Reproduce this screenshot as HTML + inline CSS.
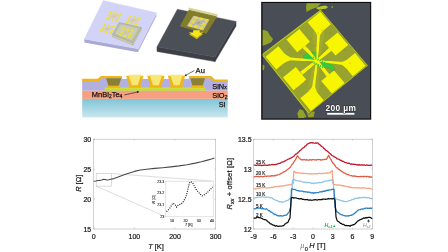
<!DOCTYPE html>
<html><head><meta charset="utf-8"><title>figure</title>
<style>html,body{margin:0;padding:0;background:#fff;}svg{display:block}</style></head>
<body><svg width="448" height="252" viewBox="0 0 448 252">
<rect width="448" height="252" fill="#fff"/>
<defs>
<filter id="b3" x="-5%" y="-5%" width="110%" height="110%"><feGaussianBlur stdDeviation="0.35"/></filter>
<filter id="b5" x="-5%" y="-5%" width="110%" height="110%"><feGaussianBlur stdDeviation="0.5"/></filter>
<linearGradient id="si" x1="0" y1="0" x2="0" y2="1"><stop offset="0" stop-color="#7fc4d6"/><stop offset="1" stop-color="#c9e6ee"/></linearGradient>
<clipPath id="mc"><rect x="262.5" y="3.1" width="107.6" height="115.4"/></clipPath>
</defs>
<g filter="url(#b3)">
<path d="M84.30,39.00 L138.00,48.80 L138.00,52.30 L84.30,42.50Z" fill="#a9a9d6"/>
<path d="M138.00,48.80 L156.40,12.70 L156.40,16.20 L138.00,52.30Z" fill="#b7b7e2"/>
<path d="M103.30,0.50 L156.40,12.70 L138.00,48.80 L84.30,39.00Z" fill="#d3d3f7" stroke="#d3d3f7" stroke-width="0.4"/>
<line x1="113.90" y1="16.50" x2="111.05" y2="12.55" stroke="#c9c4a0" stroke-width="0.6"/><line x1="113.90" y1="16.50" x2="116.75" y2="20.45" stroke="#c9c4a0" stroke-width="0.6"/><line x1="113.90" y1="16.50" x2="107.85" y2="18.55" stroke="#c9c4a0" stroke-width="0.6"/><line x1="113.90" y1="16.50" x2="119.95" y2="14.45" stroke="#c9c4a0" stroke-width="0.6"/><line x1="113.90" y1="16.50" x2="112.30" y2="19.50" stroke="#c9c4a0" stroke-width="0.6"/><line x1="113.90" y1="16.50" x2="115.50" y2="13.50" stroke="#c9c4a0" stroke-width="0.6"/><line x1="113.90" y1="16.50" x2="118.35" y2="17.45" stroke="#c9c4a0" stroke-width="0.6"/><line x1="113.90" y1="16.50" x2="109.45" y2="15.55" stroke="#c9c4a0" stroke-width="0.6"/><rect x="109.65" y="11.45" width="2.80" height="2.20" rx="0.9" fill="#f3df2e" transform="rotate(12 111.05 12.55)"/><rect x="108.05" y="14.45" width="2.80" height="2.20" rx="0.9" fill="#f3df2e" transform="rotate(12 109.45 15.55)"/><rect x="106.45" y="17.45" width="2.80" height="2.20" rx="0.9" fill="#f3df2e" transform="rotate(12 107.85 18.55)"/><rect x="114.10" y="12.40" width="2.80" height="2.20" rx="0.9" fill="#f3df2e" transform="rotate(12 115.50 13.50)"/><rect x="110.90" y="18.40" width="2.80" height="2.20" rx="0.9" fill="#f3df2e" transform="rotate(12 112.30 19.50)"/><rect x="118.55" y="13.35" width="2.80" height="2.20" rx="0.9" fill="#f3df2e" transform="rotate(12 119.95 14.45)"/><rect x="116.95" y="16.35" width="2.80" height="2.20" rx="0.9" fill="#f3df2e" transform="rotate(12 118.35 17.45)"/><rect x="115.35" y="19.35" width="2.80" height="2.20" rx="0.9" fill="#f3df2e" transform="rotate(12 116.75 20.45)"/>
<line x1="133.10" y1="20.40" x2="130.25" y2="16.45" stroke="#c9c4a0" stroke-width="0.6"/><line x1="133.10" y1="20.40" x2="135.95" y2="24.35" stroke="#c9c4a0" stroke-width="0.6"/><line x1="133.10" y1="20.40" x2="127.05" y2="22.45" stroke="#c9c4a0" stroke-width="0.6"/><line x1="133.10" y1="20.40" x2="139.15" y2="18.35" stroke="#c9c4a0" stroke-width="0.6"/><line x1="133.10" y1="20.40" x2="131.50" y2="23.40" stroke="#c9c4a0" stroke-width="0.6"/><line x1="133.10" y1="20.40" x2="134.70" y2="17.40" stroke="#c9c4a0" stroke-width="0.6"/><line x1="133.10" y1="20.40" x2="137.55" y2="21.35" stroke="#c9c4a0" stroke-width="0.6"/><line x1="133.10" y1="20.40" x2="128.65" y2="19.45" stroke="#c9c4a0" stroke-width="0.6"/><rect x="128.85" y="15.35" width="2.80" height="2.20" rx="0.9" fill="#f3df2e" transform="rotate(12 130.25 16.45)"/><rect x="127.25" y="18.35" width="2.80" height="2.20" rx="0.9" fill="#f3df2e" transform="rotate(12 128.65 19.45)"/><rect x="125.65" y="21.35" width="2.80" height="2.20" rx="0.9" fill="#f3df2e" transform="rotate(12 127.05 22.45)"/><rect x="133.30" y="16.30" width="2.80" height="2.20" rx="0.9" fill="#f3df2e" transform="rotate(12 134.70 17.40)"/><rect x="130.10" y="22.30" width="2.80" height="2.20" rx="0.9" fill="#f3df2e" transform="rotate(12 131.50 23.40)"/><rect x="137.75" y="17.25" width="2.80" height="2.20" rx="0.9" fill="#f3df2e" transform="rotate(12 139.15 18.35)"/><rect x="136.15" y="20.25" width="2.80" height="2.20" rx="0.9" fill="#f3df2e" transform="rotate(12 137.55 21.35)"/><rect x="134.55" y="23.25" width="2.80" height="2.20" rx="0.9" fill="#f3df2e" transform="rotate(12 135.95 24.35)"/>
<line x1="107.50" y1="28.90" x2="104.65" y2="24.95" stroke="#c9c4a0" stroke-width="0.6"/><line x1="107.50" y1="28.90" x2="110.35" y2="32.85" stroke="#c9c4a0" stroke-width="0.6"/><line x1="107.50" y1="28.90" x2="101.45" y2="30.95" stroke="#c9c4a0" stroke-width="0.6"/><line x1="107.50" y1="28.90" x2="113.55" y2="26.85" stroke="#c9c4a0" stroke-width="0.6"/><line x1="107.50" y1="28.90" x2="105.90" y2="31.90" stroke="#c9c4a0" stroke-width="0.6"/><line x1="107.50" y1="28.90" x2="109.10" y2="25.90" stroke="#c9c4a0" stroke-width="0.6"/><line x1="107.50" y1="28.90" x2="111.95" y2="29.85" stroke="#c9c4a0" stroke-width="0.6"/><line x1="107.50" y1="28.90" x2="103.05" y2="27.95" stroke="#c9c4a0" stroke-width="0.6"/><rect x="103.25" y="23.85" width="2.80" height="2.20" rx="0.9" fill="#f3df2e" transform="rotate(12 104.65 24.95)"/><rect x="101.65" y="26.85" width="2.80" height="2.20" rx="0.9" fill="#f3df2e" transform="rotate(12 103.05 27.95)"/><rect x="100.05" y="29.85" width="2.80" height="2.20" rx="0.9" fill="#f3df2e" transform="rotate(12 101.45 30.95)"/><rect x="107.70" y="24.80" width="2.80" height="2.20" rx="0.9" fill="#f3df2e" transform="rotate(12 109.10 25.90)"/><rect x="104.50" y="30.80" width="2.80" height="2.20" rx="0.9" fill="#f3df2e" transform="rotate(12 105.90 31.90)"/><rect x="112.15" y="25.75" width="2.80" height="2.20" rx="0.9" fill="#f3df2e" transform="rotate(12 113.55 26.85)"/><rect x="110.55" y="28.75" width="2.80" height="2.20" rx="0.9" fill="#f3df2e" transform="rotate(12 111.95 29.85)"/><rect x="108.95" y="31.75" width="2.80" height="2.20" rx="0.9" fill="#f3df2e" transform="rotate(12 110.35 32.85)"/>
<path d="M112.50,34.40 L133.00,42.60 L133.00,45.10 L112.50,36.90Z" fill="#c9ccb2" stroke="#a6aa8c" stroke-width="0.4"/>
<path d="M133.00,42.60 L141.30,27.60 L141.30,30.10 L133.00,45.10Z" fill="#d2d5bd" stroke="#a6aa8c" stroke-width="0.4"/>
<path d="M119.20,22.50 L141.30,27.60 L133.00,42.60 L112.50,34.40Z" fill="#bcc0a6" stroke="#a3a786" stroke-width="0.6"/>
<path d="M120.81,24.54 L138.04,28.52 L131.57,40.22 L115.58,33.82Z" fill="#cbceb6"/>
<line x1="126.40" y1="32.90" x2="123.64" y2="29.07" stroke="#c9c4a0" stroke-width="0.6"/><line x1="126.40" y1="32.90" x2="129.16" y2="36.73" stroke="#c9c4a0" stroke-width="0.6"/><line x1="126.40" y1="32.90" x2="120.53" y2="34.89" stroke="#c9c4a0" stroke-width="0.6"/><line x1="126.40" y1="32.90" x2="132.27" y2="30.91" stroke="#c9c4a0" stroke-width="0.6"/><line x1="126.40" y1="32.90" x2="124.85" y2="35.81" stroke="#c9c4a0" stroke-width="0.6"/><line x1="126.40" y1="32.90" x2="127.95" y2="29.99" stroke="#c9c4a0" stroke-width="0.6"/><line x1="126.40" y1="32.90" x2="130.72" y2="33.82" stroke="#c9c4a0" stroke-width="0.6"/><line x1="126.40" y1="32.90" x2="122.08" y2="31.98" stroke="#c9c4a0" stroke-width="0.6"/><rect x="122.28" y="28.00" width="2.72" height="2.13" rx="0.9" fill="#f3df2e" transform="rotate(12 123.64 29.07)"/><rect x="120.73" y="30.91" width="2.72" height="2.13" rx="0.9" fill="#f3df2e" transform="rotate(12 122.08 31.98)"/><rect x="119.17" y="33.82" width="2.72" height="2.13" rx="0.9" fill="#f3df2e" transform="rotate(12 120.53 34.89)"/><rect x="126.59" y="28.92" width="2.72" height="2.13" rx="0.9" fill="#f3df2e" transform="rotate(12 127.95 29.99)"/><rect x="123.49" y="34.74" width="2.72" height="2.13" rx="0.9" fill="#f3df2e" transform="rotate(12 124.85 35.81)"/><rect x="130.91" y="29.84" width="2.72" height="2.13" rx="0.9" fill="#f3df2e" transform="rotate(12 132.27 30.91)"/><rect x="129.36" y="32.75" width="2.72" height="2.13" rx="0.9" fill="#f3df2e" transform="rotate(12 130.72 33.82)"/><rect x="127.81" y="35.66" width="2.72" height="2.13" rx="0.9" fill="#f3df2e" transform="rotate(12 129.16 36.73)"/>
</g>
<g filter="url(#b3)">
<path d="M157.00,46.80 L215.00,57.00 L215.00,61.60 L157.00,51.40Z" fill="#3c4047" stroke="#3c4047" stroke-width="0.5"/>
<path d="M215.00,57.00 L236.00,21.40 L236.00,26.00 L215.00,61.60Z" fill="#383b42" stroke="#383b42" stroke-width="0.5"/>
<path d="M177.40,9.30 L236.00,21.40 L215.00,57.00 L157.00,46.80Z" fill="#4b4f57" stroke="#4b4f57" stroke-width="0.4"/>
<path d="M188.70,7.60 L217.60,14.20 L217.40,17.60 L216.20,17.20 L188.50,10.90Z" fill="#d9d596"/>
<path d="M188.90,10.40 L216.40,16.90 L206.30,33.20 L180.50,26.00Z" fill="#827d2c" stroke="#827d2c" stroke-width="1" stroke-linejoin="round"/>
<path d="M193.40,15.80 L209.50,19.50 L203.20,30.40 L186.90,25.90Z" fill="#c3c4b4"/>
<line x1="198.60" y1="22.80" x2="195.95" y2="17.70" stroke="#a39a66" stroke-width="0.5"/><line x1="198.60" y1="22.80" x2="201.25" y2="27.90" stroke="#a39a66" stroke-width="0.5"/><line x1="198.60" y1="22.80" x2="190.65" y2="25.40" stroke="#a39a66" stroke-width="0.5"/><line x1="198.60" y1="22.80" x2="206.55" y2="20.20" stroke="#a39a66" stroke-width="0.5"/><line x1="198.60" y1="22.80" x2="195.95" y2="26.65" stroke="#a39a66" stroke-width="0.5"/><line x1="198.60" y1="22.80" x2="201.25" y2="18.95" stroke="#a39a66" stroke-width="0.5"/><line x1="198.60" y1="22.80" x2="203.90" y2="24.05" stroke="#a39a66" stroke-width="0.5"/><line x1="198.60" y1="22.80" x2="193.30" y2="21.55" stroke="#a39a66" stroke-width="0.5"/><ellipse cx="195.95" cy="17.70" rx="1.75" ry="1.3" fill="#f5de28"/><ellipse cx="193.30" cy="21.55" rx="1.75" ry="1.3" fill="#f5de28"/><ellipse cx="190.65" cy="25.40" rx="1.75" ry="1.3" fill="#f5de28"/><ellipse cx="201.25" cy="18.95" rx="1.75" ry="1.3" fill="#f5de28"/><ellipse cx="195.95" cy="26.65" rx="1.75" ry="1.3" fill="#f5de28"/><ellipse cx="206.55" cy="20.20" rx="1.75" ry="1.3" fill="#f5de28"/><ellipse cx="203.90" cy="24.05" rx="1.75" ry="1.3" fill="#f5de28"/><ellipse cx="201.25" cy="27.90" rx="1.75" ry="1.3" fill="#f5de28"/>
<path d="M193.2,31.6 L199.6,31.6 L199.6,34.0 L203.2,34.0 L196.8,39.2 L188.6,34.0 L193.2,34.0 Z" fill="#c9b30a"/>
<path d="M193.2,30.2 L199.6,30.2 L199.6,32.6 L203.2,32.6 L196.8,37.6 L188.6,32.6 L193.2,32.6 Z" fill="#f6e61a"/>
</g>
<g filter="url(#b3)">
<rect x="82.2" y="98.6" width="145.5" height="18.8" fill="url(#si)"/>
<rect x="82.2" y="90.4" width="145.5" height="8.4" fill="#f7a081"/>
<path d="M82.20,80.00 L98.00,80.00 L101.30,77.00 L210.60,77.00 L214.40,80.60 L227.70,80.60 L227.70,90.60 L82.20,90.60Z" fill="#b1b0e0"/>
<rect x="121.9" y="74" width="67.3" height="4.9" fill="#fff"/>
<rect x="104.8" y="87.6" width="100.3" height="3" fill="#c4de2c"/>
<rect x="104.8" y="87.6" width="100.3" height="1.1" fill="#d8e030"/>
<path d="M82.2,78.8 L97.8,78.8 L101,75.9 L121.9,75.9 L121.9,78.3 L101.9,78.3 L98.7,81.3 L82.2,81.3 Z" fill="#f0b616"/>
<path d="M106,78.2 L121.3,78.2 L118.7,85.9 L108.6,85.9 Z" fill="#8c8036"/>
<rect x="107.3" y="85.7" width="12.7" height="2.1" fill="#f0b616"/>
<path d="M227.7,79.5 L214.9,79.5 L211.1,75.9 L189.2,75.9 L189.2,78.3 L210.2,78.3 L214,82 L227.7,82 Z" fill="#f0b616"/>
<path d="M190.3,78.2 L205.1,78.2 L202.6,85.7 L192.4,85.7 Z" fill="#8c8036"/>
<rect x="191.1" y="85.5" width="12.7" height="2.3" fill="#f0b616"/>
<path d="M126.10000000000001,75.8 L143.5,75.8 L140.4,85.4 L141.0,85.4 L141.0,87.8 L128.60000000000002,87.8 L128.60000000000002,85.4 L129.20000000000002,85.4 Z" fill="#f0b616"/>
<path d="M128.60000000000002,75.0 L141.0,75.0 L137.70000000000002,85.2 L131.9,85.2 Z" fill="#f7e777"/>
<rect x="128.60000000000002" y="74.0" width="12.4" height="1.2" fill="#fbf3b4" opacity="0.55"/>
<path d="M147.20000000000002,75.8 L164.6,75.8 L161.5,85.4 L162.1,85.4 L162.1,87.8 L149.70000000000002,87.8 L149.70000000000002,85.4 L150.3,85.4 Z" fill="#f0b616"/>
<path d="M149.70000000000002,75.0 L162.1,75.0 L158.8,85.2 L153.0,85.2 Z" fill="#f7e777"/>
<rect x="149.70000000000002" y="74.0" width="12.4" height="1.2" fill="#fbf3b4" opacity="0.55"/>
<path d="M167.8,75.8 L185.2,75.8 L182.1,85.4 L182.7,85.4 L182.7,87.8 L170.3,87.8 L170.3,85.4 L170.9,85.4 Z" fill="#f0b616"/>
<path d="M170.3,75.0 L182.7,75.0 L179.4,85.2 L173.6,85.2 Z" fill="#f7e777"/>
<rect x="170.3" y="74.0" width="12.4" height="1.2" fill="#fbf3b4" opacity="0.55"/>
</g>
<g font-family="Liberation Sans, sans-serif" fill="#1c1410" stroke="#1c1410" stroke-width="0.25" filter="url(#b3)">
<text x="195.6" y="73.2" font-size="7.6">Au</text>
<line x1="194.3" y1="70.6" x2="185.9" y2="75.2" stroke="#111" stroke-width="0.6"/><circle cx="185.8" cy="75.3" r="0.75"/>
<text x="212.3" y="88.7" font-size="7.4">SiN<tspan font-size="5" dy="0.6">x</tspan></text>
<text x="212.3" y="98" font-size="7.4">SiO<tspan font-size="5" dy="1">2</tspan></text>
<text x="218.8" y="106.6" font-size="7.4">Si</text>
<text x="91.8" y="97.3" font-size="7.5">MnBi<tspan font-size="4.9" dy="0.9">2</tspan><tspan dy="-0.9">Te</tspan><tspan font-size="4.9" dy="0.9">4</tspan></text>
<line x1="124.4" y1="94.9" x2="137.6" y2="92" stroke="#111" stroke-width="0.6"/><circle cx="137.8" cy="91.9" r="0.8"/>
</g>
<rect x="261.2" y="1.9" width="110" height="117.8" fill="#0c0c0c"/>
<g clip-path="url(#mc)"><g filter="url(#b5)">
<rect x="260" y="1" width="113" height="120" fill="#4a4e57"/>
<path d="M306,7.5 L306.6,3.2 L321,3.2 L317.3,6.9 L311,9.4 L306.6,12 Z" fill="#93a22a"/>
<path d="M316.6,7.5 L321,6.2 L325.4,5.5 L328,6.9 L326,8.8 L322.9,9 L319.8,10 L316.6,8.8 Z" fill="#b9c822"/>
<circle cx="332.2" cy="6.9" r="0.75" fill="#b9c822"/>
<path d="M262,29.8 L265,30.2 L267.8,31.6 L270,35.5 L273,39 L271.2,42.2 L266.3,44.6 L262,46 Z" fill="#93a22a"/>
<path d="M297.4,113.6 L299.5,109.3 L303,110.3 L306.4,116.8 L303,118.2 L298.5,118 Z" fill="#93a22a"/>
<path d="M306.2,111.8 L314.8,111.6 L313.6,117 L308.4,117.2 Z" fill="#93a22a"/>
<path d="M262,64 L264.6,66 L264,70 L262,70 Z" fill="#93a22a"/>
<path d="M320.60,9.20 L368.30,65.60 L308.50,114.20 L261.10,54.50Z" fill="#bccb20" stroke="#2f3350" stroke-width="0.5"/>
<path d="M320.78,10.75 L367.15,65.57 L309.02,112.81 L262.95,54.78Z" fill="#98a22e"/>
<path d="M312.77,30.45 L313.84,54.97 L320.82,55.38 L324.75,31.15Z" fill="#a2aa2c"/>
<path d="M318.95,92.37 L319.72,67.03 L312.78,66.12 L307.05,90.83Z" fill="#a2aa2c"/>
<path d="M282.48,63.49 L290.31,60.15 L290.50,57.56 L283.24,53.12Z" fill="#f8f506"/>
<path d="M288.31,60.21 L316.55,61.47 L316.65,60.07 L288.53,57.22Z" fill="#f8f506"/>
<path d="M313.70,28.25 L317.18,35.60 L319.77,35.75 L324.08,28.85Z" fill="#f8f506"/>
<path d="M317.09,33.71 L316.32,60.38 L317.72,60.47 L320.08,33.89Z" fill="#f8f506"/>
<path d="M349.28,58.98 L341.86,62.12 L341.59,64.71 L348.19,69.33Z" fill="#f8f506"/>
<path d="M343.73,62.12 L317.44,60.14 L317.30,61.54 L343.41,65.10Z" fill="#f8f506"/>
<path d="M317.86,94.58 L314.94,86.76 L312.36,86.43 L307.54,93.24Z" fill="#f8f506"/>
<path d="M314.89,88.71 L317.64,61.28 L316.26,61.09 L311.91,88.33Z" fill="#f8f506"/>
<path d="M302.48,47.95 L315.70,60.87 L317.17,59.51 L305.27,45.37Z" fill="#f8f506"/>
<path d="M302.54,74.75 L316.95,62.12 L315.71,60.55 L300.17,71.77Z" fill="#f8f506"/>
<path d="M329.68,74.50 L318.28,60.83 L316.68,62.04 L326.65,76.78Z" fill="#f8f506"/>
<path d="M329.45,47.60 L316.93,59.54 L318.24,61.05 L331.92,50.48Z" fill="#f8f506"/>
<path d="M286.57,39.56 L299.35,29.01 L309.93,41.64 L297.15,52.19Z" fill="#f8f506"/>
<path d="M282.97,77.56 L295.75,67.01 L306.33,79.64 L293.55,90.19Z" fill="#f8f506"/>
<path d="M321.27,80.96 L334.05,70.41 L344.63,83.04 L331.85,93.59Z" fill="#f8f506"/>
<path d="M324.87,42.96 L337.65,32.41 L348.23,45.04 L335.45,55.59Z" fill="#f8f506"/>
<path d="M265.62,56.86 L278.40,46.31 L288.98,58.94 L276.20,69.49Z" fill="#f8f506"/>
<path d="M307.52,22.26 L320.30,11.71 L330.88,24.34 L318.10,34.89Z" fill="#f8f506"/>
<path d="M342.22,63.66 L355.00,53.11 L365.58,65.74 L352.80,76.29Z" fill="#f8f506"/>
<path d="M300.32,98.26 L313.10,87.71 L323.68,100.34 L310.90,110.89Z" fill="#f8f506"/>
<path d="M303.6,55.6 L306,53.8 L310.3,53.2 L313.4,52.1 L317.4,52.8 L318.6,55.7 L315.9,58.7 L312.6,60.9 L309.8,62.5 L305.8,60.9 L303.6,58.6 Z" fill="#38c840" stroke="#7a8a2a" stroke-width="0.4"/>
<path d="M321.6,61 L326.8,60.3 L330.3,63.1 L333.5,66.4 L335.2,69.3 L332.6,70.9 L328.7,68.3 L324.5,67.3 L321.6,65.4 Z" fill="#38c840" stroke="#7a8a2a" stroke-width="0.4"/>
<path d="M307.54,52.66 L315.70,60.87 L317.17,59.51 L309.59,50.76Z" fill="#f8f506"/>
<path d="M307.81,69.91 L316.95,62.12 L315.71,60.55 L306.07,67.71Z" fill="#f8f506"/>
<path d="M325.30,69.50 L318.28,60.83 L316.68,62.04 L323.06,71.18Z" fill="#f8f506"/>
<path d="M324.89,52.18 L316.93,59.54 L318.24,61.05 L326.71,54.30Z" fill="#f8f506"/>
<path d="M301.04,60.74 L316.55,61.47 L316.65,60.07 L301.20,58.54Z" fill="#f8f506"/>
<path d="M316.78,45.74 L316.32,60.38 L317.72,60.47 L318.98,45.86Z" fill="#f8f506"/>
<path d="M331.88,61.27 L317.44,60.14 L317.30,61.54 L331.64,63.45Z" fill="#f8f506"/>
<path d="M316.09,76.34 L317.64,61.28 L316.26,61.09 L313.91,76.06Z" fill="#f8f506"/>
<path d="M311.4,61.6 L323.4,67.6 M313.2,57.2 L325.2,63.2" stroke="#38c840" stroke-width="1.9" fill="none" stroke-dasharray="1.2 1.2"/>
<circle cx="289" cy="49" r="0.42" fill="#b8402a"/>
<circle cx="301" cy="53" r="0.42" fill="#b8402a"/>
<circle cx="306" cy="47" r="0.42" fill="#b8402a"/>
<circle cx="330" cy="33" r="0.42" fill="#b8402a"/>
<circle cx="327" cy="45" r="0.42" fill="#b8402a"/>
<circle cx="345" cy="50" r="0.42" fill="#b8402a"/>
<circle cx="351" cy="47" r="0.42" fill="#b8402a"/>
<circle cx="300" cy="70" r="0.42" fill="#b8402a"/>
<circle cx="305" cy="81" r="0.42" fill="#b8402a"/>
<circle cx="309" cy="88" r="0.42" fill="#b8402a"/>
<circle cx="322" cy="86" r="0.42" fill="#b8402a"/>
<circle cx="334" cy="70" r="0.42" fill="#b8402a"/>
<circle cx="347" cy="70" r="0.42" fill="#b8402a"/>
<circle cx="350" cy="63" r="0.42" fill="#b8402a"/>
<circle cx="280" cy="68" r="0.42" fill="#b8402a"/>
<circle cx="296" cy="88" r="0.42" fill="#b8402a"/>
<circle cx="311" cy="39" r="0.42" fill="#b8402a"/>
<circle cx="322" cy="30" r="0.42" fill="#b8402a"/>
<circle cx="314.5" cy="46" r="0.42" fill="#b8402a"/>
<circle cx="318" cy="33" r="0.42" fill="#b8402a"/>
</g></g>
<g filter="url(#b3)"><rect x="327.2" y="112.9" width="27.2" height="1.8" fill="#fff"/>
<text x="340.7" y="110.7" font-family="Liberation Sans, sans-serif" font-weight="bold" font-size="8.4" text-anchor="middle" textLength="30.6" lengthAdjust="spacing" fill="#fff" stroke="#2a2c30" stroke-width="1" paint-order="stroke">200 µm</text></g>
<g filter="url(#b3)">
<rect x="93.7" y="139.2" width="121.89999999999999" height="89.80000000000001" fill="none" stroke="#b4b4b4" stroke-width="0.6"/>
<path d="M93.70,229 v-1.3 M93.70,139.2 v1.3" stroke="#b4b4b4" stroke-width="0.6"/>
<path d="M134.33,229 v-1.3 M134.33,139.2 v1.3" stroke="#b4b4b4" stroke-width="0.6"/>
<path d="M174.97,229 v-1.3 M174.97,139.2 v1.3" stroke="#b4b4b4" stroke-width="0.6"/>
<path d="M215.60,229 v-1.3 M215.60,139.2 v1.3" stroke="#b4b4b4" stroke-width="0.6"/>
<path d="M93.7,229.00 h1.3 M215.6,229.00 h-1.3" stroke="#b4b4b4" stroke-width="0.6"/>
<path d="M93.7,199.07 h1.3 M215.6,199.07 h-1.3" stroke="#b4b4b4" stroke-width="0.6"/>
<path d="M93.7,169.13 h1.3 M215.6,169.13 h-1.3" stroke="#b4b4b4" stroke-width="0.6"/>
<path d="M93.7,139.20 h1.3 M215.6,139.20 h-1.3" stroke="#b4b4b4" stroke-width="0.6"/>
<rect x="96.2" y="173.5" width="15.4" height="12.6" fill="none" stroke="#c4c4c4" stroke-width="0.6"/>
<line x1="111.6" y1="173.5" x2="213.2" y2="181.2" stroke="#c4c4c4" stroke-width="0.6"/>
<line x1="96.2" y1="186.1" x2="165.8" y2="216.8" stroke="#c4c4c4" stroke-width="0.6"/>
<path d="M93.70,181.23 L95.73,180.93 L97.76,180.51 L99.80,180.39 L101.83,180.03 L103.45,179.31 L105.08,179.49 L107.11,179.97 L108.73,179.79 L110.77,179.31 L114.02,178.59 L118.08,177.10 L122.14,175.48 L126.21,173.98 L130.27,172.67 L134.33,171.41 L140.43,170.03 L146.52,169.25 L154.65,168.41 L162.78,167.70 L170.90,166.86 L179.03,165.90 L187.16,164.70 L195.28,163.15 L201.38,161.83 L207.47,160.15 L211.54,158.96 L214.38,158.00" fill="none" stroke="#4a4a4a" stroke-width="1.1" stroke-linejoin="round"/>
<rect x="165.8" y="181.2" width="47.39999999999998" height="35.60000000000002" fill="#fff" stroke="#cfcfcf" stroke-width="0.6"/>
<path d="M166.50,211.60 L168.30,209.80 L170.50,207.20 L172.70,203.20 L174.90,204.30 L176.70,207.20 L178.30,205.00 L180.50,204.30 L182.70,202.70 L184.30,199.90 L186.10,196.50 L187.20,192.10 L188.30,187.60 L189.40,183.20 L190.90,181.60 L192.70,183.20 L194.50,186.50 L196.70,190.30 L198.05,191.75 L199.40,193.20 L200.75,194.55 L202.10,195.90 L203.50,195.10 L204.90,194.30 L206.35,193.20 L207.80,192.10 L209.15,190.65 L210.50,189.20 L212.70,187.00" fill="none" stroke="#1a1a1a" stroke-width="1.15" stroke-dasharray="1.0 1.25"/>
</g>
<g font-family="Liberation Sans, sans-serif" fill="#1a1a1a" stroke="#1a1a1a" stroke-width="0.22" filter="url(#b3)">
<text x="91.2" y="141.70" font-size="7" text-anchor="end">30</text>
<text x="91.2" y="171.63" font-size="7" text-anchor="end">25</text>
<text x="91.2" y="201.57" font-size="7" text-anchor="end">20</text>
<text x="91.2" y="231.50" font-size="7" text-anchor="end">15</text>
<text x="93.70" y="238.6" font-size="7" text-anchor="middle">0</text>
<text x="134.33" y="238.6" font-size="7" text-anchor="middle">100</text>
<text x="174.97" y="238.6" font-size="7" text-anchor="middle">200</text>
<text x="215.60" y="238.6" font-size="7" text-anchor="middle">300</text>
<text x="156" y="248.6" font-size="7.4" text-anchor="middle"><tspan font-style="italic">T</tspan> [K]</text>
<text transform="translate(81,183.3) rotate(-90)" font-size="7.4" text-anchor="middle"><tspan font-style="italic">R</tspan> [Ω]</text>
<text x="164.3" y="182.50" font-size="3.6" stroke-width="0.1" text-anchor="end">23.3</text>
<text x="164.3" y="194.37" font-size="3.6" stroke-width="0.1" text-anchor="end">23.2</text>
<text x="164.3" y="206.23" font-size="3.6" stroke-width="0.1" text-anchor="end">23.1</text>
<text x="164.3" y="218.10" font-size="3.6" stroke-width="0.1" text-anchor="end">23</text>
<text x="172" y="221.5" font-size="3.6" stroke-width="0.1" text-anchor="middle">10</text>
<text x="185.5" y="221.5" font-size="3.6" stroke-width="0.1" text-anchor="middle">20</text>
<text x="198.8" y="221.5" font-size="3.6" stroke-width="0.1" text-anchor="middle">30</text>
<text x="212" y="221.5" font-size="3.6" stroke-width="0.1" text-anchor="middle">40</text>
<text x="188.8" y="225.9" font-size="3.6" stroke-width="0.1" text-anchor="middle"><tspan font-style="italic">T</tspan> [K]</text>
<text transform="translate(155.2,199.3) rotate(-90)" font-size="3.6" stroke-width="0.1" text-anchor="middle"><tspan font-style="italic">R</tspan> [Ω]</text>
</g>
<g filter="url(#b3)">
<rect x="253.7" y="139.2" width="118.60000000000002" height="89.80000000000001" fill="none" stroke="#b4b4b4" stroke-width="0.6"/>
<path d="M253.70,229 v-1.3 M253.70,139.2 v1.3" stroke="#b4b4b4" stroke-width="0.6"/>
<path d="M273.47,229 v-1.3 M273.47,139.2 v1.3" stroke="#b4b4b4" stroke-width="0.6"/>
<path d="M293.23,229 v-1.3 M293.23,139.2 v1.3" stroke="#b4b4b4" stroke-width="0.6"/>
<path d="M313.00,229 v-1.3 M313.00,139.2 v1.3" stroke="#b4b4b4" stroke-width="0.6"/>
<path d="M332.77,229 v-1.3 M332.77,139.2 v1.3" stroke="#b4b4b4" stroke-width="0.6"/>
<path d="M352.53,229 v-1.3 M352.53,139.2 v1.3" stroke="#b4b4b4" stroke-width="0.6"/>
<path d="M372.30,229 v-1.3 M372.30,139.2 v1.3" stroke="#b4b4b4" stroke-width="0.6"/>
<path d="M253.7,229.00 h1.3 M372.3,229.00 h-1.3" stroke="#b4b4b4" stroke-width="0.6"/>
<path d="M253.7,199.07 h1.3 M372.3,199.07 h-1.3" stroke="#b4b4b4" stroke-width="0.6"/>
<path d="M253.7,169.13 h1.3 M372.3,169.13 h-1.3" stroke="#b4b4b4" stroke-width="0.6"/>
<path d="M253.7,139.20 h1.3 M372.3,139.20 h-1.3" stroke="#b4b4b4" stroke-width="0.6"/>
<path d="M253.70,165.01 L254.45,165.24 L255.21,165.12 L255.96,165.30 L256.72,165.33 L257.47,164.93 L258.23,164.90 L258.98,165.51 L259.74,165.10 L260.49,165.09 L261.25,165.65 L262.00,165.28 L262.73,165.51 L263.45,165.23 L264.18,165.32 L264.91,164.94 L265.64,165.26 L266.36,165.40 L267.09,165.13 L267.82,165.26 L268.55,165.18 L269.27,164.71 L270.00,165.19 L270.75,164.98 L271.50,164.68 L272.25,164.40 L273.00,164.91 L273.75,164.54 L274.50,164.63 L275.25,164.66 L276.00,164.45 L276.75,164.37 L277.50,163.75 L278.25,163.80 L279.00,163.31 L279.75,163.43 L280.50,163.15 L281.25,162.35 L282.00,162.14 L282.80,161.80 L283.60,161.94 L284.40,161.15 L285.20,160.89 L286.00,160.26 L286.80,159.99 L287.60,159.48 L288.40,159.03 L289.20,158.78 L290.00,158.36 L290.82,158.09 L291.65,157.43 L292.48,157.11 L293.30,156.56 L294.04,156.02 L294.79,155.16 L295.53,154.16 L296.28,154.03 L297.02,153.47 L297.77,152.79 L298.51,151.92 L299.26,151.39 L300.00,150.39 L300.71,150.24 L301.43,149.45 L302.14,148.65 L302.86,147.89 L303.57,147.85 L304.29,147.35 L305.00,146.10 L305.72,146.00 L306.44,145.10 L307.16,144.29 L307.88,143.77 L308.60,143.49 L309.60,143.17 L310.36,142.57 L311.12,142.98 L311.88,142.57 L312.64,143.06 L313.40,142.78 L314.16,143.17 L314.92,143.25 L315.68,142.90 L316.44,143.26 L317.20,142.76 L318.00,143.10 L318.71,144.07 L319.43,144.26 L320.14,144.98 L320.86,145.73 L321.57,146.48 L322.29,146.75 L323.00,147.27 L323.71,148.46 L324.43,148.67 L325.14,149.73 L325.86,150.29 L326.57,150.51 L327.29,151.17 L328.00,151.81 L328.77,152.55 L329.53,153.17 L330.30,153.79 L331.07,154.49 L331.83,155.37 L332.60,155.71 L333.45,156.20 L334.30,156.96 L335.15,157.16 L336.00,157.76 L336.75,158.67 L337.50,158.77 L338.25,159.21 L339.00,159.25 L339.75,159.89 L340.50,160.36 L341.25,160.30 L342.00,161.08 L342.75,161.45 L343.50,161.38 L344.25,162.14 L345.00,162.38 L345.75,162.73 L346.50,162.69 L347.25,163.15 L348.00,163.37 L348.75,163.06 L349.50,163.28 L350.25,163.93 L351.00,164.33 L351.70,163.91 L352.40,164.15 L353.10,164.34 L353.80,164.23 L354.50,164.35 L355.20,164.41 L355.90,164.54 L356.60,164.79 L357.30,164.67 L358.00,164.81 L358.70,165.13 L359.40,164.62 L360.10,165.04 L360.80,165.19 L361.50,164.91 L362.20,164.88 L362.90,165.33 L363.60,164.95 L364.30,164.94 L365.00,165.15 L365.73,165.35 L366.46,164.93 L367.19,165.10 L367.92,165.12 L368.65,165.49 L369.38,165.22 L370.11,165.53 L370.84,165.04 L371.57,165.17 L372.30,165.30" fill="none" stroke="#c4142c" stroke-width="1.25" stroke-linejoin="round"/>
<path d="M253.70,176.81 L254.45,176.96 L255.21,176.63 L255.96,176.45 L256.72,176.35 L257.47,176.63 L258.23,176.37 L258.98,176.79 L259.74,176.80 L260.49,176.31 L261.25,176.36 L262.00,176.72 L262.75,176.56 L263.50,176.65 L264.25,176.28 L265.00,176.08 L265.75,176.16 L266.50,176.49 L267.25,176.07 L268.00,176.09 L268.71,176.08 L269.43,176.03 L270.14,175.96 L270.86,176.27 L271.57,175.67 L272.29,175.50 L273.00,176.12 L273.71,175.93 L274.43,175.86 L275.14,175.32 L275.86,175.55 L276.57,175.39 L277.29,174.74 L278.00,174.98 L278.80,174.72 L279.60,174.28 L280.40,173.85 L281.20,173.37 L282.00,173.09 L282.80,172.52 L283.60,171.93 L284.40,171.82 L285.20,171.13 L286.00,171.02 L286.80,169.75 L287.60,169.65 L288.40,168.78 L289.20,168.23 L290.00,167.49 L290.70,166.61 L291.40,165.50 L292.10,164.21 L292.80,163.86 L293.50,162.56 L294.33,161.26 L295.17,160.12 L296.00,158.62 L296.80,156.94 L297.60,155.72 L299.00,157.88 L299.75,158.49 L300.50,159.22 L301.33,159.79 L302.17,159.65 L303.00,160.00 L303.71,159.70 L304.43,159.60 L305.14,159.85 L305.86,160.06 L306.57,159.60 L307.29,160.05 L308.00,160.15 L308.71,160.08 L309.43,160.10 L310.14,159.52 L310.86,159.97 L311.57,160.15 L312.29,159.57 L313.00,159.74 L313.71,159.73 L314.43,159.91 L315.14,159.82 L315.86,159.85 L316.57,160.06 L317.29,159.50 L318.00,159.53 L318.71,159.57 L319.43,159.57 L320.14,159.52 L320.86,160.16 L321.57,160.07 L322.29,159.51 L323.00,159.80 L323.75,159.57 L324.50,159.47 L325.25,159.39 L326.00,159.51 L327.40,157.86 L328.60,155.30 L329.40,156.78 L330.20,158.48 L330.97,159.60 L331.73,161.17 L332.50,162.56 L333.20,163.23 L333.90,163.94 L334.60,164.93 L335.30,165.99 L336.00,167.08 L336.80,167.84 L337.60,168.19 L338.40,169.14 L339.20,169.65 L340.00,170.15 L340.80,170.63 L341.60,171.24 L342.40,171.91 L343.20,172.22 L344.00,172.94 L344.80,173.15 L345.60,173.38 L346.40,173.97 L347.20,174.46 L348.00,174.39 L348.71,174.83 L349.43,175.02 L350.14,175.53 L350.86,175.76 L351.57,175.54 L352.29,176.10 L353.00,176.21 L353.70,175.89 L354.40,176.09 L355.10,175.91 L355.80,176.47 L356.50,176.42 L357.20,176.64 L357.90,176.63 L358.60,176.60 L359.30,176.71 L360.00,176.65 L360.72,176.33 L361.45,176.69 L362.17,176.28 L362.89,176.39 L363.62,176.86 L364.34,176.34 L365.06,176.39 L365.79,176.41 L366.51,176.98 L367.24,176.49 L367.96,176.39 L368.68,176.99 L369.41,176.48 L370.13,177.01 L370.85,176.90 L371.58,177.03 L372.30,176.80" fill="none" stroke="#df5a44" stroke-width="1.25" stroke-linejoin="round"/>
<path d="M253.70,189.23 L254.42,188.86 L255.13,188.92 L255.85,188.27 L256.57,188.69 L257.28,188.41 L258.00,188.45 L258.71,187.92 L259.43,188.28 L260.14,188.31 L260.86,187.58 L261.57,187.67 L262.29,187.75 L263.00,187.84 L263.75,187.46 L264.50,187.47 L265.25,187.57 L266.00,187.88 L266.75,188.03 L267.50,187.82 L268.25,187.85 L269.00,187.93 L269.75,187.73 L270.50,187.62 L271.25,187.21 L272.00,187.35 L272.75,187.53 L273.50,186.96 L274.25,187.04 L275.00,186.46 L275.70,186.77 L276.40,186.74 L277.10,186.62 L277.80,186.43 L278.50,186.34 L279.20,186.38 L279.90,186.50 L280.60,185.89 L281.30,185.78 L282.00,186.18 L282.75,186.19 L283.50,185.79 L284.25,185.62 L285.00,185.71 L285.75,185.21 L286.50,185.16 L287.25,185.00 L288.00,185.16 L288.80,184.77 L289.60,184.51 L290.40,184.64 L291.20,184.63 L292.00,183.95 L293.20,183.65 L293.80,171.44 L294.60,171.25 L295.60,172.86 L296.33,172.70 L297.07,172.73 L297.80,172.66 L298.53,173.05 L299.27,173.05 L300.00,172.96 L300.72,173.13 L301.44,173.14 L302.17,173.50 L302.89,173.08 L303.61,173.72 L304.33,173.39 L305.06,173.50 L305.78,173.44 L306.50,173.74 L307.22,173.76 L307.94,173.61 L308.67,173.59 L309.39,173.79 L310.11,173.92 L310.83,173.63 L311.56,173.90 L312.28,174.10 L313.00,173.78 L313.71,173.58 L314.41,173.55 L315.12,173.87 L315.82,173.81 L316.53,173.98 L317.24,173.88 L317.94,173.41 L318.65,173.34 L319.35,173.36 L320.06,173.28 L320.76,173.62 L321.47,173.71 L322.18,173.71 L322.88,173.21 L323.59,173.62 L324.29,173.20 L325.00,173.24 L325.71,173.39 L326.43,172.86 L327.14,172.79 L327.86,173.25 L328.57,172.79 L329.29,172.77 L330.00,172.86 L331.30,171.13 L332.20,170.44 L332.90,183.48 L334.00,184.55 L334.70,184.66 L335.40,184.53 L336.10,184.87 L336.80,185.21 L337.50,184.87 L338.20,185.05 L338.90,184.82 L339.60,185.00 L340.30,185.35 L341.00,185.02 L341.72,185.72 L342.44,185.88 L343.17,185.44 L343.89,186.20 L344.61,185.93 L345.33,186.36 L346.06,186.50 L346.78,186.31 L347.50,186.73 L348.27,186.86 L349.05,187.12 L349.82,186.88 L350.60,187.38 L351.38,187.68 L352.15,187.62 L352.93,187.68 L353.70,187.52 L354.41,187.81 L355.11,187.72 L355.82,187.99 L356.52,187.98 L357.23,187.91 L357.94,187.65 L358.64,187.99 L359.35,187.99 L360.06,187.68 L360.76,188.21 L361.47,188.05 L362.18,187.68 L362.88,188.27 L363.59,187.72 L364.29,187.87 L365.00,188.16 L365.73,188.17 L366.46,188.24 L367.19,188.41 L367.92,188.37 L368.65,188.36 L369.38,188.37 L370.11,188.39 L370.84,188.96 L371.57,189.08 L372.30,189.00" fill="none" stroke="#f6a483" stroke-width="1.25" stroke-linejoin="round"/>
<path d="M253.70,198.23 L254.42,198.22 L255.13,197.80 L255.85,197.58 L256.57,197.52 L257.28,197.72 L258.00,196.97 L258.78,197.24 L259.57,196.98 L260.35,197.29 L261.13,196.93 L261.92,196.85 L262.70,196.83 L263.44,197.00 L264.18,197.25 L264.93,197.02 L265.67,197.45 L266.41,197.00 L267.15,197.18 L267.89,197.14 L268.63,197.22 L269.38,197.78 L270.12,197.81 L270.86,197.50 L271.60,197.58 L272.36,198.18 L273.12,198.86 L273.88,199.35 L274.64,199.74 L275.40,200.07 L276.16,200.13 L276.92,200.69 L277.68,200.92 L278.44,201.54 L279.20,201.95 L279.96,201.71 L280.72,201.76 L281.48,202.16 L282.24,201.64 L283.00,202.22 L283.71,202.00 L284.43,201.75 L285.14,201.06 L285.86,200.90 L286.57,200.63 L287.29,200.38 L288.00,200.34 L288.87,199.53 L289.73,198.66 L290.60,198.46 L291.60,196.59 L292.60,180.07 L293.40,179.66 L294.27,179.44 L295.13,180.29 L296.00,180.52 L296.73,180.55 L297.45,180.73 L298.18,180.84 L298.91,180.80 L299.64,181.19 L300.36,180.99 L301.09,181.48 L301.82,181.74 L302.55,181.75 L303.27,181.99 L304.00,182.43 L304.75,182.48 L305.50,182.04 L306.25,182.61 L307.00,182.59 L307.75,182.28 L308.50,182.60 L309.25,182.61 L310.00,182.60 L310.75,183.03 L311.50,183.41 L312.25,183.07 L313.00,183.57 L313.75,183.35 L314.50,182.85 L315.25,183.28 L316.00,183.01 L316.75,183.15 L317.50,182.91 L318.25,182.83 L319.00,182.45 L319.75,182.70 L320.50,182.69 L321.25,182.55 L322.00,182.15 L322.70,182.22 L323.40,181.87 L324.10,181.44 L324.80,181.23 L325.50,181.10 L326.20,181.02 L326.90,180.84 L327.60,180.92 L328.30,180.90 L329.00,180.63 L329.75,180.32 L330.50,180.26 L331.25,179.78 L332.00,179.67 L333.20,179.79 L334.20,196.73 L335.10,197.57 L336.00,199.09 L336.71,199.23 L337.43,199.25 L338.14,199.52 L338.86,199.91 L339.57,200.23 L340.29,200.23 L341.00,200.34 L341.71,200.68 L342.43,201.28 L343.14,201.00 L343.86,201.41 L344.57,201.41 L345.29,201.60 L346.00,201.76 L346.80,201.69 L347.60,201.28 L348.40,200.94 L349.20,200.76 L350.00,200.56 L350.71,200.48 L351.43,199.85 L352.14,199.51 L352.86,199.51 L353.57,199.16 L354.29,199.06 L355.00,198.28 L355.71,198.42 L356.43,198.30 L357.14,197.92 L357.86,198.48 L358.57,197.83 L359.29,197.62 L360.00,197.78 L360.71,197.53 L361.42,197.82 L362.13,197.59 L362.84,197.40 L363.56,197.31 L364.27,197.76 L364.98,197.40 L365.69,197.74 L366.40,197.48 L367.14,197.95 L367.88,197.63 L368.61,197.73 L369.35,197.88 L370.09,198.41 L370.82,198.42 L371.56,198.35 L372.30,198.60" fill="none" stroke="#8ec4e2" stroke-width="1.25" stroke-linejoin="round"/>
<path d="M253.70,208.41 L254.40,208.79 L255.10,208.95 L255.80,208.63 L256.50,208.16 L257.20,208.14 L257.90,208.14 L258.60,208.15 L259.30,208.01 L260.00,207.98 L260.72,208.49 L261.44,208.74 L262.17,208.32 L262.89,208.95 L263.61,208.67 L264.33,208.99 L265.06,209.14 L265.78,209.24 L266.50,208.66 L267.26,209.36 L268.02,210.08 L268.78,210.82 L269.54,210.70 L270.30,211.35 L271.04,212.25 L271.78,212.22 L272.52,212.92 L273.26,213.38 L274.00,214.13 L274.80,214.63 L275.60,214.41 L276.40,215.13 L277.20,215.45 L278.00,215.84 L278.71,215.70 L279.43,216.02 L280.14,215.67 L280.86,215.77 L281.57,215.69 L282.29,216.14 L283.00,215.99 L283.76,215.57 L284.52,215.24 L285.28,215.38 L286.04,215.04 L286.80,214.85 L287.67,213.55 L288.53,212.56 L289.40,211.25 L290.60,207.15 L291.50,188.96 L292.40,188.88 L293.17,189.32 L293.93,189.49 L294.70,189.31 L295.47,189.64 L296.23,190.31 L297.00,190.40 L297.70,190.71 L298.40,190.85 L299.10,190.68 L299.80,191.15 L300.50,191.17 L301.20,191.02 L301.90,191.19 L302.60,191.11 L303.30,191.49 L304.00,192.03 L304.75,191.53 L305.50,191.98 L306.25,191.77 L307.00,191.86 L307.75,192.39 L308.50,192.21 L309.25,192.19 L310.00,192.38 L310.75,192.85 L311.50,192.93 L312.25,192.63 L313.00,192.91 L313.75,193.33 L314.50,192.68 L315.25,192.82 L316.00,192.61 L316.75,192.76 L317.50,192.53 L318.25,192.55 L319.00,192.26 L319.75,191.90 L320.50,191.78 L321.25,191.61 L322.00,192.03 L322.70,191.34 L323.40,191.10 L324.10,191.60 L324.80,190.86 L325.50,191.18 L326.20,190.42 L326.90,190.51 L327.60,190.16 L328.30,190.42 L329.00,190.08 L329.72,189.95 L330.43,189.89 L331.15,189.82 L331.87,189.29 L332.58,189.32 L333.30,189.06 L334.00,189.32 L335.00,207.24 L335.80,209.32 L336.60,211.73 L337.33,211.82 L338.07,212.59 L338.80,213.07 L339.53,213.80 L340.27,213.86 L341.00,214.59 L341.71,214.87 L342.43,214.76 L343.14,215.30 L343.86,215.61 L344.57,215.57 L345.29,215.92 L346.00,216.08 L346.74,215.74 L347.49,215.78 L348.23,216.19 L348.97,215.65 L349.71,215.66 L350.46,215.36 L351.20,215.40 L351.96,214.80 L352.72,214.79 L353.48,214.08 L354.24,213.63 L355.00,213.15 L355.76,212.24 L356.52,211.83 L357.28,210.91 L358.04,210.18 L358.80,209.92 L359.51,209.75 L360.22,209.63 L360.93,209.16 L361.64,209.22 L362.36,208.81 L363.07,209.09 L363.78,208.89 L364.49,208.29 L365.20,208.61 L365.91,208.07 L366.62,208.01 L367.33,208.46 L368.04,208.15 L368.75,208.31 L369.46,208.40 L370.17,207.97 L370.88,208.48 L371.59,208.14 L372.30,208.30" fill="none" stroke="#2e7fbf" stroke-width="1.25" stroke-linejoin="round"/>
<path d="M253.70,218.45 L254.48,218.15 L255.26,218.19 L256.04,217.96 L256.82,217.39 L257.60,217.01 L258.33,217.33 L259.06,217.58 L259.79,217.51 L260.51,217.74 L261.24,218.35 L261.97,218.47 L262.70,218.84 L263.46,219.23 L264.22,219.53 L264.98,219.55 L265.74,219.78 L266.50,220.26 L267.26,221.01 L268.02,221.70 L268.78,222.35 L269.54,222.86 L270.30,223.85 L271.03,223.79 L271.76,224.26 L272.49,224.91 L273.21,225.19 L273.94,225.17 L274.67,225.47 L275.40,226.22 L276.17,225.73 L276.93,225.90 L277.70,226.27 L278.47,226.36 L279.23,226.18 L280.00,226.18 L280.75,226.06 L281.50,226.24 L282.25,225.80 L283.00,225.95 L283.71,225.33 L284.43,225.00 L285.14,223.85 L285.86,223.49 L286.57,222.89 L287.29,222.72 L288.00,222.18 L289.00,219.83 L290.00,218.03 L291.20,198.71 L292.00,197.46 L292.80,197.54 L293.60,198.06 L294.40,197.90 L295.20,197.91 L296.00,197.87 L296.80,198.25 L297.60,198.49 L298.40,198.63 L299.20,198.90 L300.00,198.92 L300.80,198.62 L301.53,198.68 L302.26,199.27 L302.99,199.44 L303.71,199.38 L304.44,199.75 L305.17,199.69 L305.90,199.64 L306.61,199.58 L307.32,199.49 L308.03,199.96 L308.74,200.17 L309.45,200.19 L310.16,199.90 L310.87,200.06 L311.58,200.27 L312.29,200.21 L313.00,200.07 L313.70,199.90 L314.40,199.93 L315.10,199.64 L315.80,199.61 L316.50,199.93 L317.20,200.11 L317.90,199.75 L318.60,199.61 L319.30,199.53 L320.00,199.57 L320.70,199.75 L321.40,199.43 L322.10,199.72 L322.80,199.07 L323.50,199.12 L324.20,199.20 L324.90,199.05 L325.60,199.29 L326.30,199.21 L327.00,199.21 L327.70,198.95 L328.40,198.50 L329.10,198.86 L329.80,198.82 L330.50,198.74 L331.20,198.56 L331.90,198.84 L332.60,198.96 L333.30,198.34 L334.00,198.72 L335.00,199.91 L336.00,217.01 L337.20,220.68 L337.96,221.37 L338.72,221.78 L339.48,222.10 L340.24,223.26 L341.00,223.37 L341.71,223.79 L342.43,224.38 L343.14,224.28 L343.86,224.52 L344.57,225.28 L345.29,225.55 L346.00,225.37 L346.80,225.52 L347.60,225.54 L348.40,225.53 L349.20,225.72 L350.00,226.35 L350.74,225.46 L351.48,225.33 L352.22,225.06 L352.96,224.74 L353.70,224.82 L354.43,224.35 L355.16,223.79 L355.89,223.01 L356.61,222.51 L357.34,221.30 L358.07,220.87 L358.80,220.73 L359.54,219.76 L360.29,219.58 L361.03,219.40 L361.77,218.92 L362.51,218.79 L363.26,218.10 L364.00,217.91 L364.71,218.30 L365.43,217.59 L366.14,218.01 L366.86,217.35 L367.57,217.81 L368.29,217.45 L369.00,217.31 L369.82,217.27 L370.65,217.53 L371.48,218.36 L372.30,218.50" fill="none" stroke="#111111" stroke-width="1.25" stroke-linejoin="round"/>
</g>
<g font-family="Liberation Sans, sans-serif" fill="#1a1a1a" stroke="#1a1a1a" stroke-width="0.22" filter="url(#b3)">
<text x="251.6" y="141.80" font-size="7" text-anchor="end">13.5</text>
<text x="251.6" y="171.73" font-size="7" text-anchor="end">13</text>
<text x="251.6" y="201.67" font-size="7" text-anchor="end">12.5</text>
<text x="251.6" y="231.60" font-size="7" text-anchor="end">12</text>
<text x="253.70" y="238.6" font-size="7" text-anchor="middle">-9</text>
<text x="273.47" y="238.6" font-size="7" text-anchor="middle">-6</text>
<text x="293.23" y="238.6" font-size="7" text-anchor="middle">-3</text>
<text x="313.00" y="238.6" font-size="7" text-anchor="middle">0</text>
<text x="332.77" y="238.6" font-size="7" text-anchor="middle">3</text>
<text x="352.53" y="238.6" font-size="7" text-anchor="middle">6</text>
<text x="372.30" y="238.6" font-size="7" text-anchor="middle">9</text>
<text x="300.3" y="248.2" font-size="7.2" font-style="italic" fill="#777" stroke="none">µ</text>
<text x="304.8" y="251.2" font-size="5.6">0</text>
<text x="309.2" y="248.2" font-size="7.4" font-style="italic">H</text>
<text x="317" y="248.2" font-size="7.4">[T]</text>
<text transform="translate(232.3,183.8) rotate(-90)" font-size="7.4" text-anchor="middle" textLength="51.5" lengthAdjust="spacing"><tspan font-style="italic">R</tspan><tspan font-size="5.2" font-style="italic" dy="1.8">xx</tspan><tspan dy="-1.8"> + offset [Ω]</tspan></text>
<text x="256" y="163.9" font-size="4.5" stroke-width="0.18">25 K</text>
<text x="256" y="175.1" font-size="4.5" stroke-width="0.18">20 K</text>
<text x="256" y="186.8" font-size="4.5" stroke-width="0.18">15 K</text>
<text x="256" y="196.4" font-size="4.5" stroke-width="0.18">10 K</text>
<text x="256" y="207.9" font-size="4.5" stroke-width="0.18">5 K</text>
<text x="256" y="216.8" font-size="4.5" stroke-width="0.18">2 K</text>
<text x="324.6" y="227.2" font-size="5.2" font-weight="bold" font-style="italic" fill="#19b24b" stroke="none">H<tspan font-size="3.6" dy="0.8">c1</tspan><tspan dy="-0.8" font-size="4" font-style="normal">▲</tspan></text>
<text x="363" y="227.2" font-size="5.2" font-style="italic" fill="#8a8a8a" stroke="none">H<tspan font-size="3.6" dy="0.8">c2</tspan></text>
<path d="M368.5,219.6 l1.1,1.8 h-2.2 Z" fill="#222"/><line x1="368.5" y1="221" x2="368.5" y2="222.6" stroke="#222" stroke-width="0.5"/>
</g>
</svg></body></html>
